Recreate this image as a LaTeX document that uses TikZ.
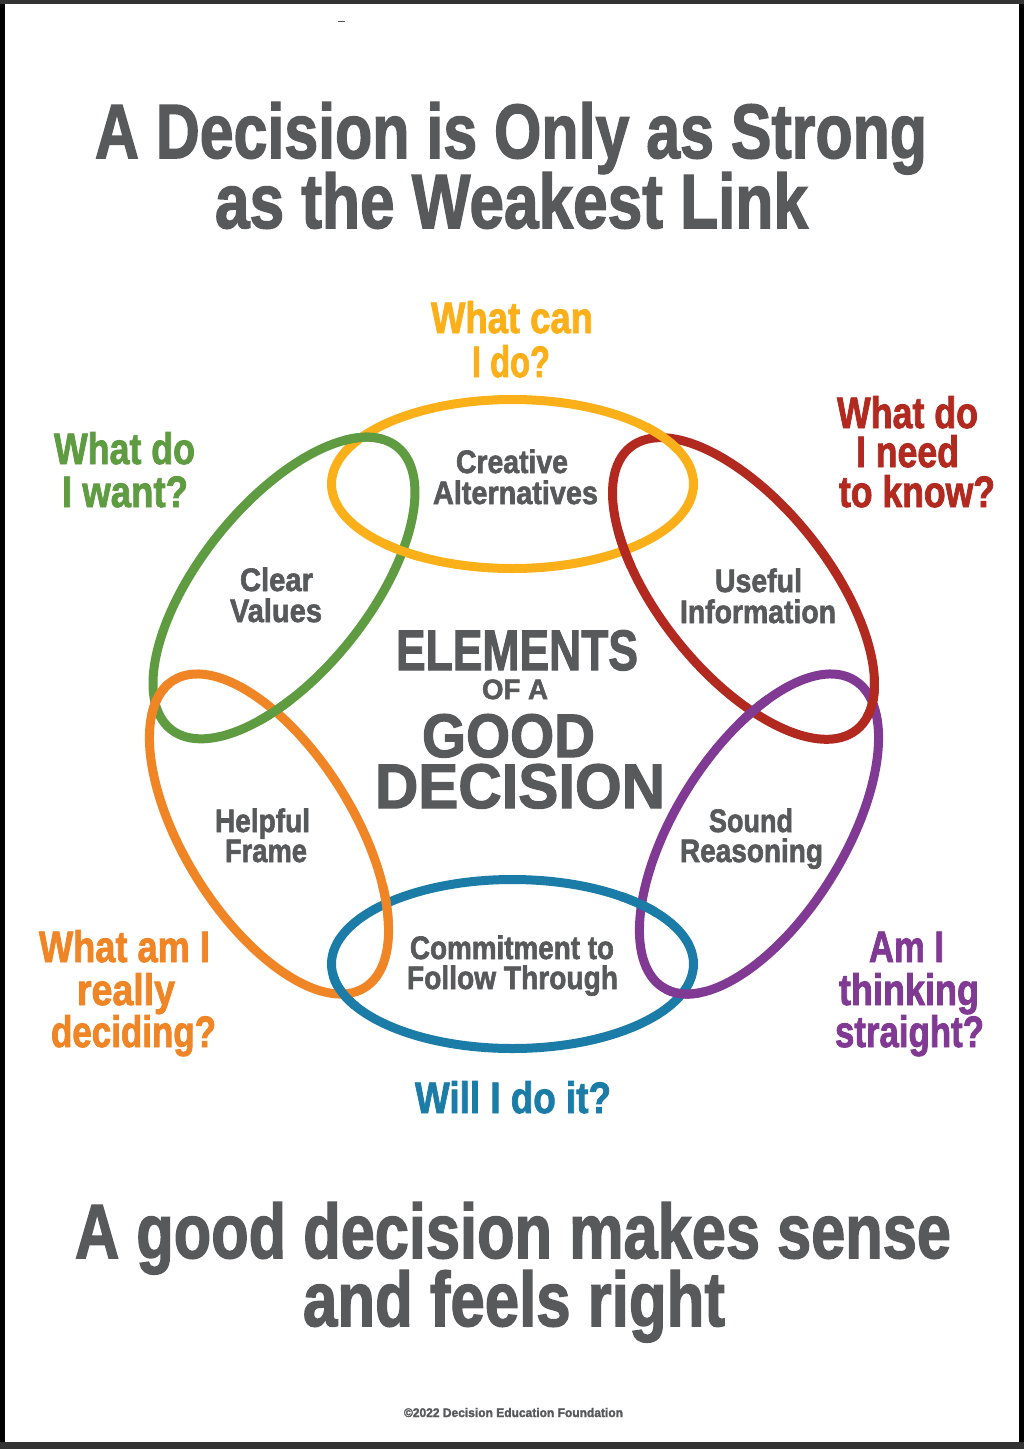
\documentclass[tikz,border=0pt]{standalone}
\usepackage{fontspec}
\usepackage{graphicx}
\setmainfont{Liberation Sans}[BoldFeatures={FakeBold=2}]
\definecolor{txtgray}{HTML}{58595B}
\definecolor{bandgray}{HTML}{333333}
\definecolor{cyellow}{HTML}{FBB01A}
\definecolor{cred}{HTML}{B2291F}
\definecolor{cpurple}{HTML}{813A94}
\definecolor{cblue}{HTML}{1B7DA7}
\definecolor{corange}{HTML}{F08526}
\definecolor{cgreen}{HTML}{5F9B41}
\newcommand\fitw[2]{\resizebox{#1pt}{\height}{#2}}
\tikzset{
  lbl/.style={inner sep=0pt, outer sep=0pt, anchor=base},
  titlefont/.style={lbl, text=txtgray, font=\fontsize{77}{77}\selectfont\bfseries},
  qfont/.style={lbl, font=\fontsize{44}{44}\selectfont\bfseries},
  infont/.style={lbl, text=txtgray, font=\fontsize{32.5}{32.5}\selectfont\bfseries},
  ring/.style={line width=9pt},
  eY/.style={ring, cyellow},
  eB/.style={ring, cblue},
  eG/.style={ring, cgreen, rotate around={51.3:(cG)}},
  eR/.style={ring, cred, rotate around={-51.3:(cR)}},
  eO/.style={ring, corange, rotate around={-58.1:(cO)}},
  eP/.style={ring, cpurple, rotate around={58.1:(cP)}},
}
% redraw ring #1 (style) centred at #2 inside a small disc round crossing #3
\newcommand\ringover[3]{%
  \begin{scope}
    \clip (#3) circle (20pt);
    \draw[#1] (#2) ellipse[x radius=181pt, y radius=84.5pt];
  \end{scope}}
\begin{document}
\begin{tikzpicture}[x=1pt,y=1pt]
\useasboundingbox (0,0) rectangle (1024,-1449);
\fill[white] (0,0) rectangle (1024,-1449);
\fill[bandgray] (0,0) rectangle (1024,-4);
\fill[black] (0,-4) rectangle (5,-1442);
\fill[black] (1019,-4) rectangle (1024,-1442);
\fill[bandgray] (0,-1442) rectangle (1024,-1449);
\draw[txtgray, line width=1pt] (338,-21) -- (345,-21);

% title
\node[titlefont] (t1) at (511,-158) {\fitw{832}{A Decision is Only as Strong}};
\node[titlefont] (t2) at (511.5,-228) {\fitw{593}{as the Weakest Link}};

% rings
\coordinate (cY) at (512.5,-484);
\coordinate (cB) at (512.5,-964);
\coordinate (cG) at (284,-588);
\coordinate (cR) at (743.5,-588.5);
\coordinate (cO) at (269,-834);
\coordinate (cP) at (759,-834);
\draw[eY] (cY) ellipse[x radius=181pt, y radius=84.5pt];
\draw[eB] (cB) ellipse[x radius=181pt, y radius=84.5pt];
\draw[eG] (cG) ellipse[x radius=181pt, y radius=84.5pt];
\draw[eR] (cR) ellipse[x radius=181pt, y radius=84.5pt];
\draw[eO] (cO) ellipse[x radius=181pt, y radius=84.5pt];
\draw[eP] (cP) ellipse[x radius=181pt, y radius=84.5pt];

% crossings (interlinked chain)
\coordinate (xGYo) at (363,-438);
\coordinate (xGYi) at (404,-550);
\coordinate (xOGo) at (155,-697);
\coordinate (xOGi) at (275,-710);
\coordinate (xBOo) at (343,-991);
\coordinate (xBOi) at (386,-905);
\coordinate (xPBo) at (683,-990);
\coordinate (xPBi) at (639,-905);
\coordinate (xRPo) at (872,-697);
\coordinate (xRPi) at (752,-710);
\coordinate (xYRo) at (662,-438);
\coordinate (xYRi) at (621,-550);
\ringover{eG}{cG}{xGYo}
\ringover{eY}{cY}{xGYi}
\ringover{eO}{cO}{xOGo}
\ringover{eG}{cG}{xOGi}
\ringover{eB}{cB}{xBOo}
\ringover{eO}{cO}{xBOi}
\ringover{eP}{cP}{xPBo}
\ringover{eB}{cB}{xPBi}
\ringover{eR}{cR}{xRPo}
\ringover{eP}{cP}{xRPi}
\ringover{eY}{cY}{xYRo}
\ringover{eR}{cR}{xYRi}

% questions
\node[qfont, text=cyellow] (qy1) at (512,-333) {\fitw{162}{What can}};
\node[qfont, text=cyellow] (qy2) at (511,-377) {\fitw{78}{I do?}};
\node[qfont, text=cgreen] (qg1) at (124.5,-464) {\fitw{141}{What do}};
\node[qfont, text=cgreen] (qg2) at (125,-507) {\fitw{126}{I want?}};
\node[qfont, text=cred] (qr1) at (907.5,-428) {\fitw{141}{What do}};
\node[qfont, text=cred] (qr2) at (907.5,-467) {\fitw{103}{I need}};
\node[qfont, text=cred] (qr3) at (917,-507) {\fitw{156}{to know?}};
\node[qfont, text=corange] (qo1) at (124.5,-962) {\fitw{171}{What am I}};
\node[qfont, text=corange] (qo2) at (126,-1005) {\fitw{98}{really}};
\node[qfont, text=corange] (qo3) at (133.5,-1047) {\fitw{165}{deciding?}};
\node[qfont, text=cpurple] (qp1) at (906.5,-962) {\fitw{75}{Am I}};
\node[qfont, text=cpurple] (qp2) at (909,-1005) {\fitw{140}{thinking}};
\node[qfont, text=cpurple] (qp3) at (909.5,-1047) {\fitw{149}{straight?}};
\node[qfont, text=cblue] (qb1) at (513,-1113) {\fitw{196}{Will I do it?}};

% inner labels
\node[infont] (ca1) at (512,-473) {\fitw{112}{Creative}};
\node[infont] (ca2) at (515.5,-504) {\fitw{165}{Alternatives}};
\node[infont] (cv1) at (276.5,-591) {\fitw{73}{Clear}};
\node[infont] (cv2) at (276,-622) {\fitw{92}{Values}};
\node[infont] (ui1) at (758.5,-592) {\fitw{87}{Useful}};
\node[infont] (ui2) at (758,-623) {\fitw{156}{Information}};
\node[infont] (hf1) at (262.5,-832) {\fitw{95}{Helpful}};
\node[infont] (hf2) at (266,-862) {\fitw{82}{Frame}};
\node[infont] (sr1) at (751,-832) {\fitw{84}{Sound}};
\node[infont] (sr2) at (751.5,-862) {\fitw{143}{Reasoning}};
\node[infont] (cf1) at (512,-959) {\fitw{204}{Commitment to}};
\node[infont] (cf2) at (512.5,-989) {\fitw{211}{Follow Through}};

% centre
\node[lbl, text=txtgray, font=\fontsize{57}{57}\selectfont\bfseries] (e1) at (517,-670) {\fitw{242}{ELEMENTS}};
\node[lbl, text=txtgray, font=\fontsize{28}{28}\selectfont\bfseries] (e2) at (515,-699) {\fitw{66}{OF A}};
\node[lbl, text=txtgray, font=\fontsize{61.5}{61.5}\selectfont\bfseries] (e3) at (508.5,-757) {\fitw{173}{GOOD}};
\node[lbl, text=txtgray, font=\fontsize{63}{63}\selectfont\bfseries] (e4) at (520,-808) {\fitw{290}{DECISION}};

% bottom
\node[titlefont] (b1) at (513,-1258) {\fitw{876}{A good decision makes sense}};
\node[titlefont] (b2) at (514,-1326) {\fitw{422}{and feels right}};
\node[lbl, text=txtgray, font=\fontsize{12.5}{12.5}\selectfont\bfseries] (ft) at (513.5,-1417) {\fitw{219}{©2022 Decision Education Foundation}};
\end{tikzpicture}
\end{document}
